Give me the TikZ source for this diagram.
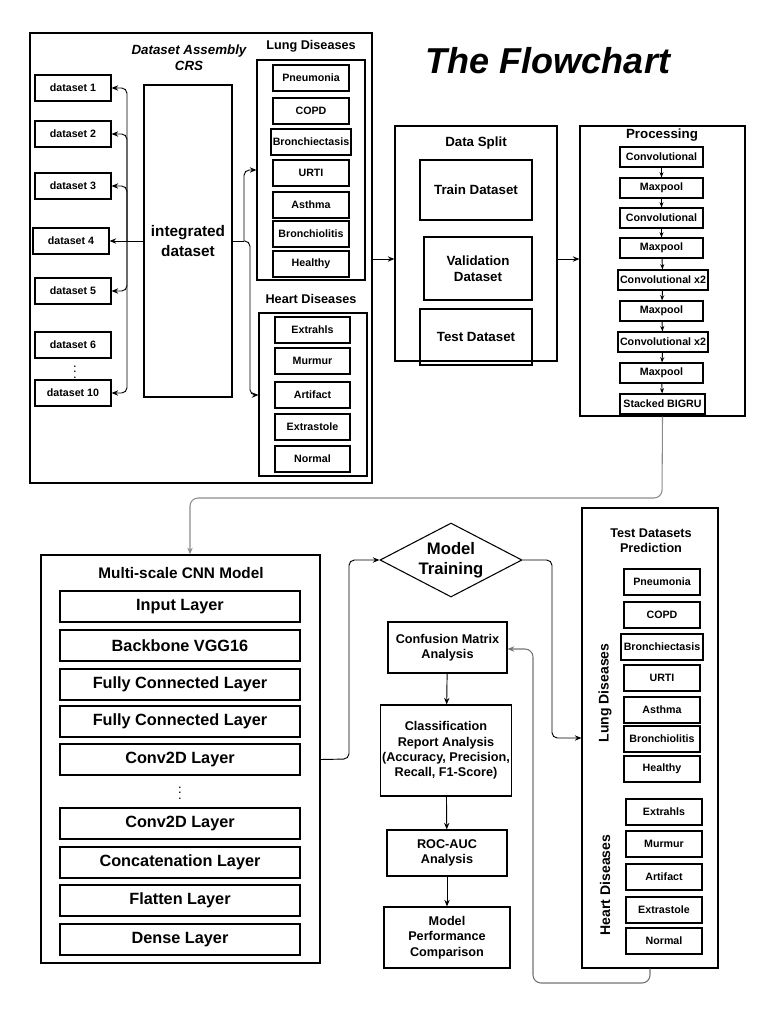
\documentclass[tikz,border=0pt]{standalone}
\usepackage{fontspec}
\setmainfont{Liberation Sans}
\usetikzlibrary{arrows.meta,shapes.geometric}
\newcommand{\bx}[7][]{\node[box,#1,minimum width={(#5-#3)*0.75pt},minimum height={(#6-#4)*0.75pt}] (#2) at ({(#3+#5)/2},{(#4+#6)/2}) {#7};}
\begin{document}
\begin{tikzpicture}[x=0.75pt,y=-0.75pt,
 box/.style={draw,line width=0.8pt,inner sep=1pt,align=center,font=\bfseries\fontsize{8}{9.5}\selectfont},
 big/.style={font=\bfseries\fontsize{10}{12}\selectfont},
 layer/.style={font=\bfseries\fontsize{12.2}{14}\selectfont},
 lbl/.style={font=\bfseries\fontsize{9}{11}\selectfont,align=center},
 dots/.style={font=\bfseries\fontsize{7}{7}\selectfont,inner sep=0pt},
 arr/.style={-{Stealth[length=5pt,width=4pt]},line width=0.7pt,rounded corners=4pt},
 gline/.style={line width=0.8pt,draw=black!45,rounded corners=6pt}]
\useasboundingbox (0,0) rectangle (768,1024);
% top-left group
\bx[line width=1pt]{outer}{30}{33}{372}{483}{}
\node[font=\bfseries\itshape\fontsize{27}{31}\selectfont] (title) at (548,61) {The Flowchart};
\node[lbl,font=\bfseries\itshape\fontsize{10}{12}\selectfont] (dacrs) at (189,58) {Dataset Assembly\\CRS};
\bx{d1}{35}{75}{111}{101}{dataset 1}
\bx{d2}{35}{121}{111}{147}{dataset 2}
\bx{d3}{35}{173}{111}{199}{dataset 3}
\bx{d4}{33}{228}{109}{254}{dataset 4}
\bx{d5}{35}{278}{111}{304}{dataset 5}
\bx{d6}{35}{332}{111}{358}{dataset 6}
\node[dots] (dots1) at (75,368) {\vdots};
\bx{d10}{35}{380}{111}{406}{dataset 10}
\bx[font=\bfseries\fontsize{11.5}{15}\selectfont]{integ}{144}{85}{232}{397}{integrated\\dataset}
\coordinate (bus) at (127,241);
\draw[arr] (integ.west|-bus) -- (d4.east|-bus);
\foreach \d in {d1,d2,d3,d5,d10}{\draw[arr] (bus) -- (bus|-\d.east) -- (\d.east);}
\node[lbl,font=\bfseries\fontsize{9.5}{11}\selectfont] (lungl) at (311,46) {Lung Diseases};
\bx{lung}{257}{60}{365}{280}{}
\bx{p1}{273}{65}{349}{91}{Pneumonia}
\bx{p2}{273}{98}{349}{124}{COPD}
\bx{p3}{271}{129}{351}{155}{Bronchiectasis}
\bx{p4}{273}{160}{349}{186}{URTI}
\bx{p5}{273}{192}{349}{218}{Asthma}
\bx{p6}{273}{221}{349}{247}{Bronchiolitis}
\bx{p7}{273}{251}{349}{277}{Healthy}
\node[lbl,font=\bfseries\fontsize{9.5}{11}\selectfont] (heartl) at (311,299) {Heart Diseases};
\bx{heart}{259}{313}{367}{476}{}
\bx{h1}{275}{317}{350}{343}{Extrahls}
\bx{h2}{275}{348}{350}{374}{Murmur}
\bx{h3}{275}{382}{350}{408}{Artifact}
\bx{h4}{275}{414}{350}{440}{Extrastole}
\bx{h5}{275}{446}{350}{472}{Normal}
\coordinate (jn) at (244,241);
\draw[line width=0.7pt] (integ.east|-jn) -- (jn);
\draw[arr] (jn) -- (244,170) -- (lung.west|-0,170);
\draw[arr] (jn) -- (250,241) -- (250,395) -- (heart.west|-0,395);
% data split
\bx{split}{395}{126}{557}{361}{}
\node[lbl,font=\bfseries\fontsize{10}{12}\selectfont] (splitl) at (476,143) {Data Split};
\bx[big]{train}{420}{160}{532}{220}{Train Dataset}
\bx[big]{val}{424}{237}{532}{300}{Validation\\Dataset}
\bx[big]{test}{420}{309}{532}{365}{Test Dataset}
\draw[arr] (outer.east|-0,259) -- (split.west|-0,259);
% processing
\bx{proc}{580}{126}{745}{416}{}
\node[lbl,font=\bfseries\fontsize{10}{12}\selectfont] (procl) at (662,135) {Processing};
\draw[arr] (split.east|-0,259) -- (proc.west|-0,259);
\bx{c1}{620}{147}{703}{167}{Convolutional}
\bx{c2}{620}{178}{703}{198}{Maxpool}
\bx{c3}{620}{208}{703}{228}{Convolutional}
\bx{c4}{620}{238}{703}{258}{Maxpool}
\bx{c5}{618}{270}{708}{290}{Convolutional x2}
\bx{c6}{620}{301}{703}{321}{Maxpool}
\bx{c7}{618}{332}{708}{352}{Convolutional x2}
\bx{c8}{620}{363}{703}{383}{Maxpool}
\bx{c9}{620}{394}{705}{414}{Stacked BIGRU}
\foreach \a/\b in {c1/c2,c2/c3,c3/c4,c4/c5,c5/c6,c6/c7,c7/c8,c8/c9}{\draw[arr,-{Stealth[length=4pt,width=3pt]}] (\a) -- (\b);}
% CNN
\bx[line width=1pt]{cnn}{41}{555}{320}{963}{}
\node[lbl,font=\bfseries\fontsize{11.5}{13}\selectfont] (cnnl) at (181,573) {Multi-scale CNN Model};
\bx[layer]{l1}{60}{591}{300}{622}{Input Layer}
\bx[layer]{l2}{60}{630}{300}{661}{Backbone VGG16}
\bx[layer]{l3}{60}{669}{300}{700}{Fully Connected Layer}
\bx[layer]{l4}{60}{706}{300}{737}{Fully Connected Layer}
\bx[layer]{l5}{60}{744}{300}{775}{Conv2D Layer}
\node[dots] (dots2) at (180,789) {\vdots};
\bx[layer]{l6}{60}{808}{300}{839}{Conv2D Layer}
\bx[layer]{l7}{60}{847}{300}{878}{Concatenation Layer}
\bx[layer]{l8}{60}{885}{300}{916}{Flatten Layer}
\bx[layer]{l9}{60}{924}{300}{955}{Dense Layer}
\draw[gline,-{Stealth[length=5pt,width=4pt]},draw=black!45] (proc.south) -- (662,498) -- (190,498) -- (cnn.north-|190,0);
% model training
\node[draw,diamond,aspect=1.9,line width=0.8pt,minimum width=142*0.75pt,minimum height=74*0.75pt,inner sep=0pt,align=center,font=\bfseries\fontsize{12.5}{15}\selectfont] (train2) at (451,560) {Model\\Training};
\draw[arr] (cnn.east|-l5) -- (349,759) -- (349,560) -- (train2.west);
\bx[big,font=\bfseries\fontsize{9.5}{11.5}\selectfont]{conf}{388}{622}{507}{673}{Confusion Matrix\\Analysis}
\bx[big,font=\bfseries\fontsize{9.5}{11.5}\selectfont]{cls}{381}{705}{511}{796}{Classification\\Report Analysis\\(Accuracy, Precision,\\Recall, F1-Score)}
\bx[big,font=\bfseries\fontsize{9.5}{11.5}\selectfont]{roc}{387}{830}{507}{876}{ROC-AUC\\Analysis}
\bx[big,font=\bfseries\fontsize{9.5}{11.5}\selectfont]{perf}{384}{907}{510}{968}{Model\\Performance\\Comparison}
\draw[arr] (conf) -- (cls);
\draw[arr] (cls) -- (roc);
\draw[arr] (roc) -- (perf);
% test prediction
\bx{tp}{582}{508}{718}{968}{}
\node[lbl,font=\bfseries\fontsize{9.5}{11}\selectfont] (tpl) at (651,541) {Test Datasets\\Prediction};
\draw[arr] (train2.east) -- (552,560) -- (552,738) -- (tp.west|-0,738);
\bx{q1}{624}{569}{700}{595}{Pneumonia}
\bx{q2}{624}{602}{700}{628}{COPD}
\bx{q3}{621}{634}{703}{660}{Bronchiectasis}
\bx{q4}{624}{665}{700}{691}{URTI}
\bx{q5}{624}{697}{700}{723}{Asthma}
\bx{q6}{624}{726}{700}{752}{Bronchiolitis}
\bx{q7}{624}{756}{700}{782}{Healthy}
\bx{r1}{626}{799}{702}{825}{Extrahls}
\bx{r2}{626}{831}{702}{857}{Murmur}
\bx{r3}{626}{864}{702}{890}{Artifact}
\bx{r4}{626}{897}{702}{923}{Extrastole}
\bx{r5}{626}{928}{702}{954}{Normal}
\node[lbl,font=\bfseries\fontsize{10.5}{12}\selectfont,rotate=90] (tlung) at (605,693) {Lung Diseases};
\node[lbl,font=\bfseries\fontsize{10.5}{12}\selectfont,rotate=90] (theart) at (605,885) {Heart Diseases};
\draw[gline,-{Stealth[length=5pt,width=4pt]},draw=black!55] (tp.south-|650,0) -- (650,983) -- (533,983) -- (533,649) -- (conf.east|-0,649);
\end{tikzpicture}
\end{document}
